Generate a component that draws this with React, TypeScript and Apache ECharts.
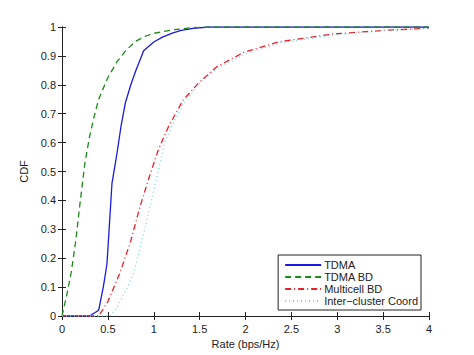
import React, { useEffect, useRef } from "react";
import * as echarts from "echarts";

const xTicks = [0, 0.5, 1, 1.5, 2, 2.5, 3, 3.5, 4];
const yTicks = [0, 0.1, 0.2, 0.3, 0.4, 0.5, 0.6, 0.7, 0.8, 0.9, 1];

const tdmaX = [0, 0.3, 0.4, 0.45, 0.49, 0.545, 0.6, 0.645, 0.69, 0.75, 0.8, 0.89, 1.0, 1.1, 1.21, 1.3, 1.43, 1.6, 4];
const tdmaY = [0, 0, 0.02, 0.1, 0.18, 0.46, 0.564, 0.66, 0.737, 0.8, 0.845, 0.918, 0.948, 0.966, 0.98, 0.988, 0.995, 1.0, 1.0];

const tdmaBdX = [0, 0.05, 0.1, 0.15, 0.2, 0.25, 0.3, 0.35, 0.4, 0.5, 0.6, 0.7, 0.8, 0.9, 1.0, 1.2, 1.4, 1.6, 4];
const tdmaBdY = [0, 0.07, 0.15, 0.26, 0.4, 0.53, 0.62, 0.69, 0.75, 0.825, 0.88, 0.92, 0.95, 0.967, 0.978, 0.99, 0.997, 1.0, 1.0];

const multiX = [0, 0.4, 0.5, 0.63, 0.75, 0.85, 0.95, 1.05, 1.16, 1.32, 1.5, 1.69, 1.98, 2.37, 2.96, 3.5, 4.0];
const multiY = [0, 0, 0.05, 0.148, 0.26, 0.378, 0.48, 0.575, 0.655, 0.747, 0.81, 0.863, 0.912, 0.949, 0.976, 0.988, 0.996];

const coordX = [0, 0.52, 0.6, 0.7, 0.78, 0.87, 0.96, 1.04, 1.12, 1.2, 1.32, 1.5, 1.7, 2.0, 2.4, 3.0, 3.5, 4];
const coordY = [0, 0, 0.03, 0.09, 0.148, 0.26, 0.378, 0.49, 0.6, 0.66, 0.735, 0.805, 0.858, 0.908, 0.946, 0.974, 0.987, 0.995];

const seriesNames = ["TDMA", "TDMA BD", "Multicell BD", "Inter\u2212cluster Coord"];

const zip = (xs: number[], ys: number[]) => xs.map((x, i) => [x, ys[i]]);

export default function App() {
  const ref = useRef<HTMLDivElement>(null);
  useEffect(() => {
    if (!ref.current) return;
    const chart = echarts.init(ref.current, undefined, { renderer: "svg" });
    const font = "Liberation Sans, Arial, sans-serif";
    const axisLine = { show: true, lineStyle: { color: "#222", width: 1 } };
    const axisTick = { show: true, inside: true, length: 4, lineStyle: { color: "#222" } };
    const lineSeries = (name: string, data: number[][], color: string, type: any, width = 1.3) => ({
      name,
      type: "line",
      data,
      showSymbol: false,
      symbol: "none",
      lineStyle: { color, width, type },
      itemStyle: { color },
      xAxisIndex: 0,
      yAxisIndex: 0,
    });
    chart.setOption({
      animation: false,
      backgroundColor: "#fff",
      textStyle: { fontFamily: font },
      grid: { left: 62, top: 27, right: 45, bottom: 39 },
      xAxis: [
        {
          type: "value",
          min: 0,
          max: 4,
          interval: 0.5,
          position: "bottom",
          name: "Rate (bps/Hz)",
          nameLocation: "middle",
          nameGap: 20,
          nameTextStyle: { color: "#222", fontSize: 11, fontFamily: font },
          axisLine,
          axisTick,
          splitLine: { show: false },
          axisLabel: { color: "#222", fontSize: 11, margin: 7, fontFamily: font },
        },
        {
          type: "value",
          min: 0,
          max: 4,
          interval: 0.5,
          position: "top",
          axisLine,
          axisTick,
          splitLine: { show: false },
          axisLabel: { show: false },
        },
      ],
      yAxis: [
        {
          type: "value",
          min: 0,
          max: 1,
          interval: 0.1,
          position: "left",
          name: "CDF",
          nameLocation: "middle",
          nameGap: 23,
          nameTextStyle: { color: "#222", fontSize: 11, fontFamily: font },
          axisLine,
          axisTick,
          splitLine: { show: false },
          axisLabel: {
            color: "#222",
            fontSize: 11,
            margin: 6,
            fontFamily: font,
            formatter: (v: number) => String(Math.round(v * 10) / 10),
          },
        },
        {
          type: "value",
          min: 0,
          max: 1,
          interval: 0.1,
          position: "right",
          axisLine,
          axisTick,
          splitLine: { show: false },
          axisLabel: { show: false },
        },
      ],
      legend: {
        data: seriesNames,
        orient: "vertical",
        right: 53,
        bottom: 45,
        itemWidth: 36,
        itemHeight: 8,
        itemGap: 0,
        padding: [4, 3, 3, 6],
        borderColor: "#222",
        borderWidth: 1,
        backgroundColor: "#fff",
        itemStyle: { opacity: 0 },
        textStyle: { color: "#222", fontSize: 11, lineHeight: 12, fontFamily: font, padding: [0, 0, 0, -2] },
      },
      series: [
        lineSeries(seriesNames[0], zip(tdmaX, tdmaY), "#1a1adc", "solid"),
        lineSeries(seriesNames[1], zip(tdmaBdX, tdmaBdY), "#1a8a1a", [6, 4]),
        lineSeries(seriesNames[2], zip(multiX, multiY), "#e8202a", [6, 3, 1, 3]),
        lineSeries(seriesNames[3], zip(coordX, coordY), "#7fd3d6", [1, 3]),
      ],
    });
    return () => chart.dispose();
  }, []);
  return (
    <div
      ref={ref}
      style={{ position: "fixed", left: 0, top: 0, width: 474, height: 355 }}
    />
  );
}
